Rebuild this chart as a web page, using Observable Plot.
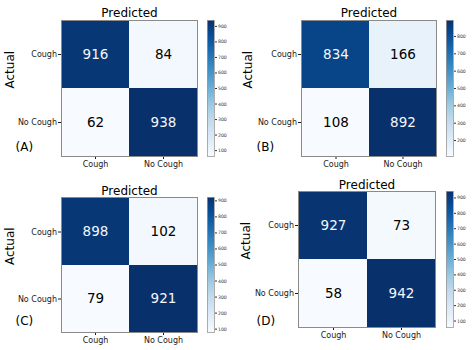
<!DOCTYPE html>
<html><head><meta charset="utf-8">
<script src="https://cdn.jsdelivr.net/npm/d3@7"></script>
<script src="https://cdn.jsdelivr.net/npm/@observablehq/plot@0.6"></script>
<style>
body{margin:0;background:#fff;}
#root{position:relative;width:474px;height:350px;overflow:hidden;background:#fff;}
#root svg{position:absolute;overflow:visible;}
</style></head><body><div id="root"></div>
<script>
const classes = ["Cough", "No Cough"];
const panelNames = ["(A)", "(B)", "(C)", "(D)"];
// values in row order: [actual Cough/pred Cough, actual Cough/pred No Cough, actual No Cough/pred Cough, actual No Cough/pred No Cough]
const valuesA = [916, 84, 62, 938];
const valuesB = [834, 166, 108, 892];
const valuesC = [898, 102, 79, 921];
const valuesD = [927, 73, 58, 942];
const colorbarTicksA = [100, 200, 300, 400, 500, 600, 700, 800, 900];
const colorbarTicksB = [200, 300, 400, 500, 600, 700, 800];
const colorbarTicksC = [100, 200, 300, 400, 500, 600, 700, 800, 900];
const colorbarTicksD = [100, 200, 300, 400, 500, 600, 700, 800, 900];
const titleText = "Predicted";
const yTitleText = "Actual";
// matplotlib "Blues" anchor colours
const bluesStops = ["#f7fbff", "#deebf7", "#c6dbef", "#9ecae1", "#6baed6", "#4292c6", "#2171b5", "#08519c", "#08306b"];
const blues = d3.piecewise(d3.interpolateRgb, bluesStops);

const FONT = '"DejaVu Sans", sans-serif';
const layouts = [
  {left: 0,   top: 0,   mL: 61, mR: 40, mT: 20, mB: 19, cbLeft: 200, titleDy: -7.5, yTitleDx: -51, tagDx: -46, tagDy: -9},
  {left: 237, top: 0,   mL: 64, mR: 38, mT: 20, mB: 19, cbLeft: 439, titleDy: -7.5, yTitleDx: -53, tagDx: -45, tagDy: -9},
  {left: 0,   top: 175, mL: 61, mR: 40, mT: 22, mB: 18, cbLeft: 200, titleDy: -6.5, yTitleDx: -51.5, tagDx: -46, tagDy: -11},
  {left: 237, top: 175, mL: 61, mR: 39, mT: 16, mB: 23, cbLeft: 439, titleDy: -6, yTitleDx: -52, tagDx: -42, tagDy: -6}
];
const allValues = [valuesA, valuesB, valuesC, valuesD];
const allTicks = [colorbarTicksA, colorbarTicksB, colorbarTicksC, colorbarTicksD];
const root = document.getElementById("root");

allValues.forEach((vals, k) => {
  const L = layouts[k];
  const data = [];
  classes.forEach((a, i) => classes.forEach((p, j) => data.push({actual: a, pred: p, value: vals[i * 2 + j]})));
  const lo = d3.min(vals), hi = d3.max(vals);
  const mid = (lo + hi) / 2;
  const W = 237, H = 175;
  const chart = Plot.plot({
    width: W, height: H,
    marginLeft: L.mL, marginRight: L.mR, marginTop: L.mT, marginBottom: L.mB,
    style: {fontFamily: FONT, fontSize: "8px", color: "#1a1a1a", background: "transparent"},
    x: {domain: classes, padding: 0, label: null, tickSize: 3, tickPadding: 1.5},
    y: {domain: classes, padding: 0, label: null, tickSize: 3, tickPadding: 1.5},
    color: {type: "linear", interpolate: blues, domain: [lo, hi]},
    marks: [
      Plot.cell(data, {x: "pred", y: "actual", fill: "value", inset: 0, shapeRendering: "crispEdges"}),
      Plot.text(data, {x: "pred", y: "actual", text: d => String(d.value), filter: d => d.value > mid, fill: "#f4f7fb", fontSize: 13.5}),
      Plot.text(data, {x: "pred", y: "actual", text: d => String(d.value), filter: d => d.value <= mid, fill: "black", fontSize: 13.5}),
      Plot.frame({stroke: "#8a8a8a", strokeWidth: 1}),
      Plot.text([titleText], {frameAnchor: "top", lineAnchor: "middle", dy: L.titleDy, fontSize: 12, fill: "black"}),
      Plot.text([yTitleText], {frameAnchor: "left", lineAnchor: "middle", rotate: -90, dx: L.yTitleDx, fontSize: 12, fill: "black"}),
      Plot.text([panelNames[k]], {frameAnchor: "bottom-left", lineAnchor: "middle", textAnchor: "start", dx: L.tagDx, dy: L.tagDy, fontSize: 12, fill: "black"})
    ]
  });
  chart.style.left = L.left + "px";
  chart.style.top = L.top + "px";
  root.appendChild(chart);

  // colorbar
  const steps = 136;
  const stepSize = (hi - lo) / steps;
  const grad = d3.range(steps).map(i => lo + i * stepSize);
  const cb = Plot.plot({
    width: 37, height: H,
    marginLeft: 7, marginRight: 23, marginTop: L.mT, marginBottom: L.mB,
    style: {fontFamily: FONT, fontSize: "4.6px", color: "#333", background: "transparent"},
    x: {domain: [0, 1], axis: null},
    y: {domain: [lo, hi], axis: "right", ticks: allTicks[k], tickSize: 2, tickPadding: 1.5, label: null, tickFormat: d => String(d)},
    color: {type: "linear", interpolate: blues, domain: [lo, hi]},
    marks: [
      Plot.rect(grad, {x1: 0, x2: 1, y1: d => d, y2: d => Math.min(hi, d + stepSize * 2), fill: d => d + stepSize / 2, shapeRendering: "crispEdges"}),
      Plot.frame({stroke: "#9a9a9a", strokeWidth: 0.8})
    ]
  });
  cb.style.left = L.cbLeft + "px";
  cb.style.top = L.top + "px";
  root.appendChild(cb);
});
</script></body></html>
